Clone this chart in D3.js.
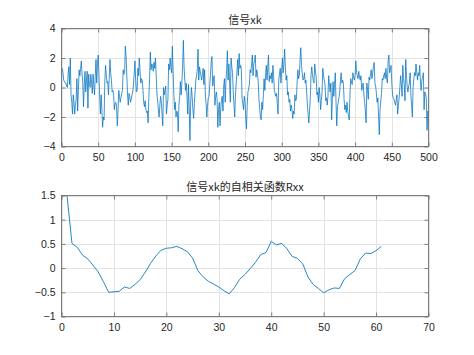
<!DOCTYPE html>
<html><head><meta charset="utf-8">
<script src="https://cdn.jsdelivr.net/npm/d3@7/dist/d3.min.js"></script>
<style>
body{margin:0;background:#fff;}
svg{display:block;font-family:"Liberation Sans",Arial,"Noto Sans CJK SC",sans-serif;}
</style></head>
<body>
<svg id="chart" width="474" height="355"></svg>
<script>
// ---- data ----
const titleTop = "信号xk";
const titleBottom = "信号xk的自相关函数Rxx";
const xkValues = [
 1.3,1.0,0.5,0.4,0.3,0.3,0.1,0,0.9,1.4,0.2,2.0,-0.5,-1.0,-1.8,-0.5,-1.0,-1.8,-1.2,-0.8,0.6,-1.6,-0.2,1.2,0.8,1.3,1.8,0.9,0.3,-1.3,0.2,1.1,-0.3,0.5,1.1,-1.4,0.9,0.2,0,0.9,0.3,-0.4,0.9,0.2,-0.5,0.8,1.9,0.3,1.5,2.2,
 0.9,-0.6,-1.8,-0.5,-1.5,-2.7,-2.0,-2.2,0.4,1.5,0.9,0.3,0.4,-0.5,0.6,1.9,1.0,0.5,-0.3,-0.2,-0.5,-1.5,-1.1,-1.0,-1.3,-2.6,-1.6,-0.2,-0.6,-1.0,-0.7,-0.4,-0.2,1.2,0.9,1.0,2.8,2.1,0.8,-0.5,-1.2,-0.4,-0.6,-1.0,-0.8,-0.5,-0.3,0.2,0.9,1.8,
 0.6,-0.3,-0.2,1.3,0.8,2.0,1.1,0.3,0.6,0.5,-0.2,-1.0,-1.3,-0.9,-1.5,-1.7,-1.6,-2.4,-0.7,0.6,2.4,1.2,1.6,1.5,1.1,1.7,1.3,2.0,0.9,-0.4,-0.9,-1.5,-2.0,-1.2,-0.6,-1.0,-1.8,-2.6,0,-0.5,-0.2,0.1,-1.8,-1.2,-0.8,1.6,1.2,2.0,1.4,1.0,
 2.8,1.2,-0.4,-1.5,-1.0,-2.0,-1.6,-1.7,-3.0,-1.2,-0.6,0.4,-0.5,0.3,1.5,3.2,1.4,0.5,-0.2,0.3,-0.6,-1.8,0.2,-1.4,-3.6,-1.0,0,-0.6,-1.5,-2.1,-1.1,-0.3,0.5,0.8,1.2,2.6,0.5,1.4,1.1,0.8,0.5,0.9,1.3,0.2,1.2,-0.5,-1.1,-2.0,-1.2,-0.7,
 -0.6,0.2,0.9,1.8,2.1,0.1,0.5,0.8,-1.2,-0.6,-0.3,-0.8,-2.7,-1.5,-1.0,-2.6,-1.4,-0.8,-0.6,-1.6,0.1,0.6,-1.0,0.4,1.2,2.5,0.5,1.6,0.3,-1.0,2.0,1.4,1.0,-0.3,-1.2,-2.0,-0.5,0.3,1.0,1.9,0.8,2.3,1.3,1.5,1.2,-0.7,-1.1,-1.5,-0.6,-1.0,
 -2.0,-2.8,-1.2,-0.3,-0.1,0.2,1.2,1.0,1.6,2.2,0.8,1.6,1.8,2.2,0.7,1.2,0.9,0.4,-0.8,-1.4,-2.0,-2.2,-1.0,-1.5,-0.5,0.6,-0.2,0.8,1.5,0.5,1.4,2.2,0.4,0.8,0.6,1.0,0.3,1.5,0.8,-0.2,-0.4,-0.6,-0.4,-1.1,-1.8,0.5,0.9,1.3,0.3,1.2,
 2.0,1.0,1.6,2.6,1.4,0.5,0.8,-0.5,-0.3,-1.0,-0.8,-1.6,-1.2,-1.5,-2.1,-1.6,-1.8,-0.5,-0.9,-0.8,0.3,1.2,0.6,0.8,1.9,2.7,1.5,0.9,0.5,0.6,1.0,0.3,0.5,-0.3,-1.2,-1.8,-2.4,-1.5,-0.7,0.9,1.4,0.8,0.5,0.3,1.6,1.1,0.7,-0.5,-0.3,-1.0,
 0,-0.5,-1.5,-0.9,-0.3,1.3,0.8,0.5,0.2,-0.9,-0.7,-1.2,-0.6,0.8,0.2,-0.3,0.3,-2.2,-0.8,0.4,-0.6,0.2,1.0,-1.0,-2.6,-1.3,-1.0,-0.7,-0.3,0.4,1.0,0.3,0.5,0.3,-0.8,-1.5,-1.2,-1.7,-1.0,-1.6,-1.9,-2.2,-0.5,0.6,0.4,0.2,1.0,0.7,0.5,0.8,
 1.8,1.0,0.8,0.6,1.1,0.7,0.5,0.8,-0.2,0.1,0.3,-0.5,-1.0,-1.6,-2.4,0.3,-0.2,-0.8,0.7,0.5,0.9,1.2,0.6,1.0,1.4,1.7,0.3,0.1,-0.4,-1.0,-0.7,-2.0,-3.2,-1.5,-0.9,-0.4,0.6,0.5,0.8,1.0,0.6,1.3,0.6,0.3,1.8,2.2,1.0,1.2,1.5,0.3,
 -0.5,-0.7,-0.8,-1.0,-1.2,-0.8,-0.5,-1.8,-1.2,-0.7,0,0.8,0.2,-0.6,1.5,0.6,0.2,-0.9,1.9,0.8,0,-0.3,0.1,0.3,1.0,-0.5,-1.2,-2.0,0,0.6,1.0,0.8,1.6,1.0,0.5,1.0,0.8,1.5,0.4,-0.2,0.5,0.7,1.0,-1.5,-0.3,-0.5,-0.7,-2.9,-1.6,-2.0
];
const rxxValues = [
 1.55,0.51,0.43,0.27,0.19,0.06,-0.08,-0.28,-0.5,-0.49,
 -0.48,-0.39,-0.42,-0.34,-0.24,-0.08,0.1,0.25,0.37,0.41,
 0.42,0.45,0.4,0.34,0.21,-0.05,-0.18,-0.27,-0.33,-0.39,
 -0.47,-0.53,-0.4,-0.23,-0.13,-0.01,0.12,0.28,0.32,0.55,
 0.48,0.51,0.4,0.24,0.2,0.09,-0.18,-0.34,-0.42,-0.51,
 -0.45,-0.41,-0.42,-0.22,-0.13,-0.05,0.19,0.31,0.3,0.36,
 0.45
];
const topXTicks = [0,50,100,150,200,250,300,350,400,450,500];
const topYTicks = [-4,-2,0,2,4];
const botXTicks = [0,10,20,30,40,50,60,70];
const botYTicks = [-1,-0.5,0,0.5,1,1.5];

// ---- drawing ----
const svg = d3.select("#chart");
svg.append("rect").attr("width",474).attr("height",355).attr("fill","#fff");
const axisColor = "#707070";
const labelColor = "#262626";
const gridColor = "#e3e3e3";
const lineColor = "#0072BD";

function panel(box, xDomain, yDomain, xTicks, yTicks, data, title, id, lw){
  const x = d3.scaleLinear().domain(xDomain).range([box.l, box.r]);
  const y = d3.scaleLinear().domain(yDomain).range([box.b, box.t]);
  const g = svg.append("g");
  g.selectAll(".gx").data(xTicks).join("line")
    .attr("x1",d=>Math.round(x(d))+0.5).attr("x2",d=>Math.round(x(d))+0.5)
    .attr("y1",box.t).attr("y2",box.b).attr("stroke",gridColor).attr("stroke-width",1);
  g.selectAll(".gy").data(yTicks).join("line")
    .attr("y1",d=>Math.round(y(d))+0.5).attr("y2",d=>Math.round(y(d))+0.5)
    .attr("x1",box.l).attr("x2",box.r).attr("stroke",gridColor).attr("stroke-width",1);
  svg.append("clipPath").attr("id",id).append("rect")
    .attr("x",box.l).attr("y",box.t).attr("width",box.r-box.l).attr("height",box.b-box.t);
  const line = d3.line().x((d,i)=>x(i+1)).y(d=>y(d));
  g.append("path").datum(data).attr("d",line).attr("fill","none")
    .attr("stroke",lineColor).attr("stroke-width",lw).attr("clip-path",`url(#${id})`);
  const tl = 4;
  const bottomAx = d3.axisBottom(x).tickValues(xTicks).tickSizeInner(-tl).tickSizeOuter(0).tickPadding(7).tickFormat(d3.format("~g"));
  const topAx = d3.axisTop(x).tickValues(xTicks).tickSizeInner(-tl).tickSizeOuter(0).tickFormat("");
  const leftAx = d3.axisLeft(y).tickValues(yTicks).tickSizeInner(-tl).tickSizeOuter(0).tickPadding(6).tickFormat(d3.format("~g"));
  const rightAx = d3.axisRight(y).tickValues(yTicks).tickSizeInner(-tl).tickSizeOuter(0).tickFormat("");
  const styleAx = s => { s.selectAll("path,line").attr("stroke",axisColor).attr("stroke-width",0.9);
    s.selectAll("text").attr("fill",labelColor).style("font-size","10.5px"); s.select(".domain").remove(); };
  g.append("g").attr("transform",`translate(0,${box.b})`).call(bottomAx).call(styleAx);
  g.append("g").attr("transform",`translate(0,${box.t})`).call(topAx).call(styleAx);
  g.append("g").attr("transform",`translate(${box.l},0)`).call(leftAx).call(styleAx);
  g.append("g").attr("transform",`translate(${box.r},0)`).call(rightAx).call(styleAx);
  g.append("rect").attr("x",box.l).attr("y",box.t).attr("width",box.r-box.l).attr("height",box.b-box.t)
    .attr("fill","none").attr("stroke",axisColor).attr("stroke-width",0.9);
  g.append("text").attr("x",(box.l+box.r)/2).attr("y",box.t-5).attr("text-anchor","middle")
    .attr("fill",labelColor).style("font-size","11px")
    .style("font-family","'Noto Sans CJK SC','Liberation Sans',sans-serif").text(title);
}

panel({l:61.5,r:428.5,t:28.5,b:146.5},[0,500],[-4,4],topXTicks,topYTicks,xkValues,titleTop,"c1",0.75);
panel({l:61.5,r:428.5,t:195.5,b:316.5},[0,70],[-1,1.5],botXTicks,botYTicks,rxxValues,titleBottom,"c2",0.85);
</script>
</body></html>
